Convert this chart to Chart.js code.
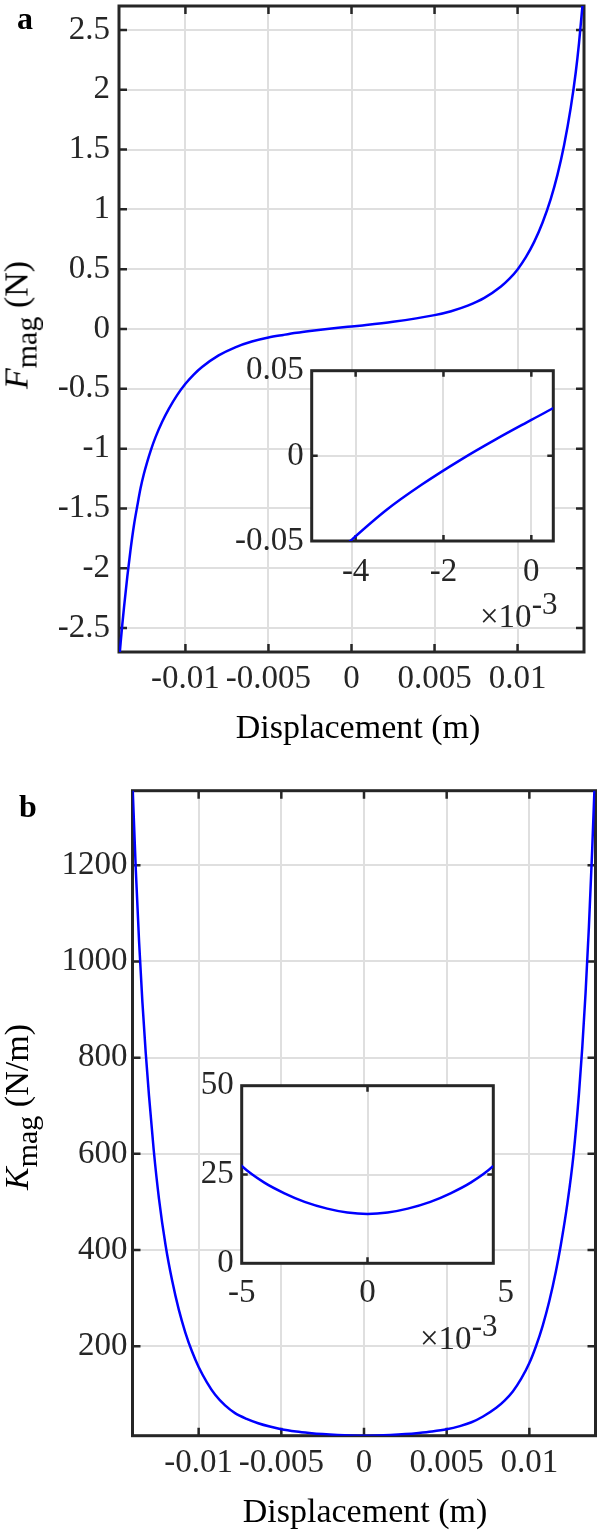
<!DOCTYPE html>
<html>
<head>
<meta charset="utf-8">
<script src="https://cdn.jsdelivr.net/npm/chart.js@4.4.1/dist/chart.umd.min.js"></script>
<style>
  html, body { margin: 0; padding: 0; background: #fff; }
  #page { position: relative; width: 597px; height: 1535px; overflow: hidden;
          font-family: "Liberation Serif", "Times New Roman", serif; }
  canvas { position: absolute; }
  .t { position: absolute; white-space: nowrap; }
  .panel { font-size: 32px; line-height: 32px; font-weight: bold; color: #000; }
  .ylab { font-size: 34px; line-height: 34px; color: #000; transform: translate(-50%, -50%) rotate(-90deg); }
  .ylab .sub { position: relative; top: 9px; font-size: 30px; }
  .xlab { font-size: 34px; line-height: 34px; color: #000; transform: translate(-50%, -50%); }
  .exp { font-size: 33px; line-height: 33px; color: #262626; }
  .exp .sup { position: relative; top: -13px; font-size: 31px; }
</style>
</head>
<body>
<div id="page">
  <canvas id="mainA" width="597" height="760" style="left:0;top:0"></canvas>
  <canvas id="insetA" width="360" height="260" style="left:220px;top:340px"></canvas>
  <canvas id="mainB" width="597" height="765" style="left:0;top:770px"></canvas>
  <canvas id="insetB" width="370" height="250" style="left:150px;top:1060px"></canvas>

  <div class="t panel" style="left:17px;top:2px">a</div>
  <div class="t panel" style="left:19px;top:790px">b</div>

  <div class="t ylab" style="left:16.5px;top:325px"><i>F</i><span class="sub">mag</span> (N)</div>
  <div class="t ylab" style="left:16.5px;top:1107px"><i>K</i><span class="sub">mag</span> (N/m)</div>

  <div class="t xlab" style="left:358px;top:727px">Displacement (m)</div>
  <div class="t xlab" style="left:365px;top:1511px">Displacement (m)</div>

  <div class="t exp" style="left:480px;top:600px">×10<span class="sup">-3</span></div>
  <div class="t exp" style="left:420px;top:1322px">×10<span class="sup">-3</span></div>
</div>

<script>
// Panel a: magnetic force (N) vs displacement (m)
const dispA = [-0.0140, -0.0139, -0.0138, -0.0137, -0.0135, -0.0133, -0.0131, -0.0129, -0.0127,
  -0.0125, -0.0123, -0.0121, -0.0118, -0.0114, -0.0110, -0.0105, -0.0100, -0.0095, -0.0090,
  -0.0080, -0.0070, -0.0060, -0.0050, -0.0041, -0.0033, -0.0025, -0.0016, -0.0008, 0,
  0.0005, 0.0025, 0.0050, 0.0060, 0.0070, 0.0080, 0.0090, 0.0095, 0.0100, 0.0105, 0.0110,
  0.0115, 0.0120, 0.0124, 0.0128, 0.0132, 0.0135, 0.0137, 0.0139, 0.0140];
const forceA = [-2.78, -2.62, -2.47, -2.33, -2.07, -1.84, -1.64, -1.48, -1.33,
  -1.21, -1.11, -1.02, -0.904, -0.776, -0.668, -0.553, -0.458, -0.381, -0.318,
  -0.221, -0.153, -0.105, -0.071, -0.0495, -0.0318, -0.0170, -0.0022, 0.0098, 0.0211,
  0.0281, 0.060, 0.116, 0.149, 0.195, 0.260, 0.355, 0.418, 0.498, 0.600, 0.728,
  0.888, 1.088, 1.288, 1.536, 1.848, 2.142, 2.39, 2.69, 2.86];

// Panel b: magnetic stiffness (N/m) vs displacement (m)
const dispB = [-0.0140, -0.0138, -0.0136, -0.0134, -0.0132, -0.0130, -0.01272, -0.0124, -0.0120,
  -0.0116, -0.0112, -0.0108, -0.0104, -0.0100, -0.0095, -0.0090, -0.0084, -0.0078, -0.0071,
  -0.0064, -0.0057, -0.0050, -0.0041, -0.0033, -0.0025, -0.0016, -0.0008, 0, 0.0008, 0.0016,
  0.0025, 0.0033, 0.0041, 0.0050, 0.0058, 0.0065, 0.0072, 0.0080, 0.0085, 0.0090, 0.0095,
  0.0100, 0.0104, 0.0108, 0.0112, 0.0116, 0.0119, 0.0123, 0.01267, 0.0130, 0.0132, 0.0134,
  0.0136, 0.0138, 0.0140];
const stiffB = [1370, 1190, 1040, 915, 810, 720, 609, 507, 410,
  336, 276, 228, 189, 157, 125, 99, 77, 61, 49,
  40, 33, 27.4, 22.7, 19.7, 17.3, 15.4, 14.3, 13.9, 14.3, 15.4,
  17.3, 19.7, 22.7, 27.4, 34, 42, 54, 72, 87, 106, 132,
  165, 200, 242, 293, 355, 410, 497, 598, 725, 821, 935,
  1071, 1232, 1417];

// tick values and labels
const xTicksMain = [-0.01, -0.005, 0, 0.005, 0.01];
const xLabelsMain = ['-0.01', '-0.005', '0', '0.005', '0.01'];
const yTicksA = [-2.5, -2, -1.5, -1, -0.5, 0, 0.5, 1, 1.5, 2, 2.5];
const yLabelsA = ['-2.5', '-2', '-1.5', '-1', '-0.5', '0', '0.5', '1', '1.5', '2', '2.5'];
const yTicksB = [200, 400, 600, 800, 1000, 1200];
const yLabelsB = ['200', '400', '600', '800', '1000', '1200'];
const xTicksInsetA = [-0.004, -0.002, 0];
const xLabelsInsetA = ['-4', '-2', '0'];
const yTicksInsetA = [-0.05, 0, 0.05];
const yLabelsInsetA = ['-0.05', '0', '0.05'];
const xTicksInsetB = [-0.005, 0, 0.005];
const xLabelsInsetB = ['-5', '0', '   5'];   // last label sits right of its tick in the original
const yTicksInsetB = [0, 25, 50];
const yLabelsInsetB = ['0', '25', '50'];

// box + inward tick marks, MATLAB style
const framePlugin = {
  id: 'frame',
  beforeDraw(chart, args, opts) {
    if (!opts.fill) return;
    const a = chart.chartArea;
    chart.ctx.save();
    chart.ctx.fillStyle = '#fff';
    chart.ctx.fillRect(a.left, a.top, a.width, a.height);
    chart.ctx.restore();
  },
  beforeDatasetsDraw(chart, args, opts) {
    const { ctx, chartArea: a, scales: { x, y } } = chart;
    const len = opts.tickLen || 8;
    ctx.save();
    ctx.strokeStyle = '#262626';
    ctx.lineWidth = 2.5;
    ctx.beginPath();
    x.ticks.forEach(t => {
      const px = x.getPixelForValue(t.value);
      if (px < a.left + 2 || px > a.right - 2) return;
      ctx.moveTo(px, a.bottom); ctx.lineTo(px, a.bottom - len);
      ctx.moveTo(px, a.top); ctx.lineTo(px, a.top + len);
    });
    y.ticks.forEach(t => {
      const py = y.getPixelForValue(t.value);
      if (py < a.top + 2 || py > a.bottom - 2) return;
      ctx.moveTo(a.left, py); ctx.lineTo(a.left + len, py);
      ctx.moveTo(a.right, py); ctx.lineTo(a.right - len, py);
    });
    ctx.stroke();
    ctx.lineWidth = 3;
    ctx.strokeRect(a.left, a.top, a.width, a.height);
    ctx.restore();
  }
};

function axis(min, max, ticks, labels, size, pad, isX) {
  return {
    type: 'linear',
    min: min,
    max: max,
    afterBuildTicks: s => { s.ticks = ticks.map(v => ({ value: v })); },
    afterFit: s => {
      if (isX) s.height = size; else s.width = size;
      s.paddingTop = 0; s.paddingBottom = 0; s.paddingLeft = 0; s.paddingRight = 0;
    },
    grid: { color: '#dfdfdf', lineWidth: 2, drawTicks: false },
    border: { display: false },
    ticks: {
      autoSkip: false, maxRotation: 0, minRotation: 0, padding: pad, color: '#262626',
      font: { family: 'Liberation Serif', size: 33 },
      callback: (v, i) => labels[i]
    }
  };
}

function makeChart(id, xs, ys, opt) {
  return new Chart(document.getElementById(id), {
    type: 'scatter',
    data: {
      datasets: [{
        data: xs.map((x, i) => ({ x: x, y: ys[i] })),
        showLine: true,
        borderColor: '#0000ff',
        borderWidth: 2.5,
        pointRadius: 0,
        cubicInterpolationMode: 'monotone',
        fill: false
      }]
    },
    options: {
      responsive: false,
      animation: false,
      events: [],
      layout: { padding: opt.padding },
      plugins: {
        legend: { display: false },
        tooltip: { enabled: false },
        frame: { fill: opt.fill, tickLen: opt.tickLen }
      },
      scales: { x: opt.x, y: opt.y }
    },
    plugins: [framePlugin]
  });
}

makeChart('mainA', dispA, forceA, {
  padding: { top: 6, right: 13, left: 0, bottom: 0 },
  tickLen: 8,
  x: axis(-0.014, 0.014, xTicksMain, xLabelsMain, 108, 8, true),
  y: axis(-2.7, 2.7, yTicksA, yLabelsA, 119, 9, false)
});

makeChart('insetA', dispA, forceA, {
  padding: { top: 30.7, right: 26.7, left: 0, bottom: 0 },
  fill: true, tickLen: 6,
  x: axis(-0.005, 0.0005, xTicksInsetA, xLabelsInsetA, 59, 12, true),
  y: axis(-0.05, 0.05, yTicksInsetA, yLabelsInsetA, 91.7, 8, false)
});

makeChart('mainB', dispB, stiffB, {
  padding: { top: 20.7, right: 1.5, left: 0, bottom: 0 },
  tickLen: 8,
  x: axis(-0.014, 0.014, xTicksMain, xLabelsMain, 99.3, 8, true),
  y: axis(14, 1355, yTicksB, yLabelsB, 132.5, 5, false)
});

makeChart('insetB', dispB, stiffB, {
  padding: { top: 25.7, right: 26.7, left: 0, bottom: 0 },
  fill: true, tickLen: 6,
  x: axis(-0.005, 0.005, xTicksInsetB, xLabelsInsetB, 46.7, 10, true),
  y: axis(0, 50, yTicksInsetB, yLabelsInsetB, 91.7, 8, false)
});
</script>
</body>
</html>
